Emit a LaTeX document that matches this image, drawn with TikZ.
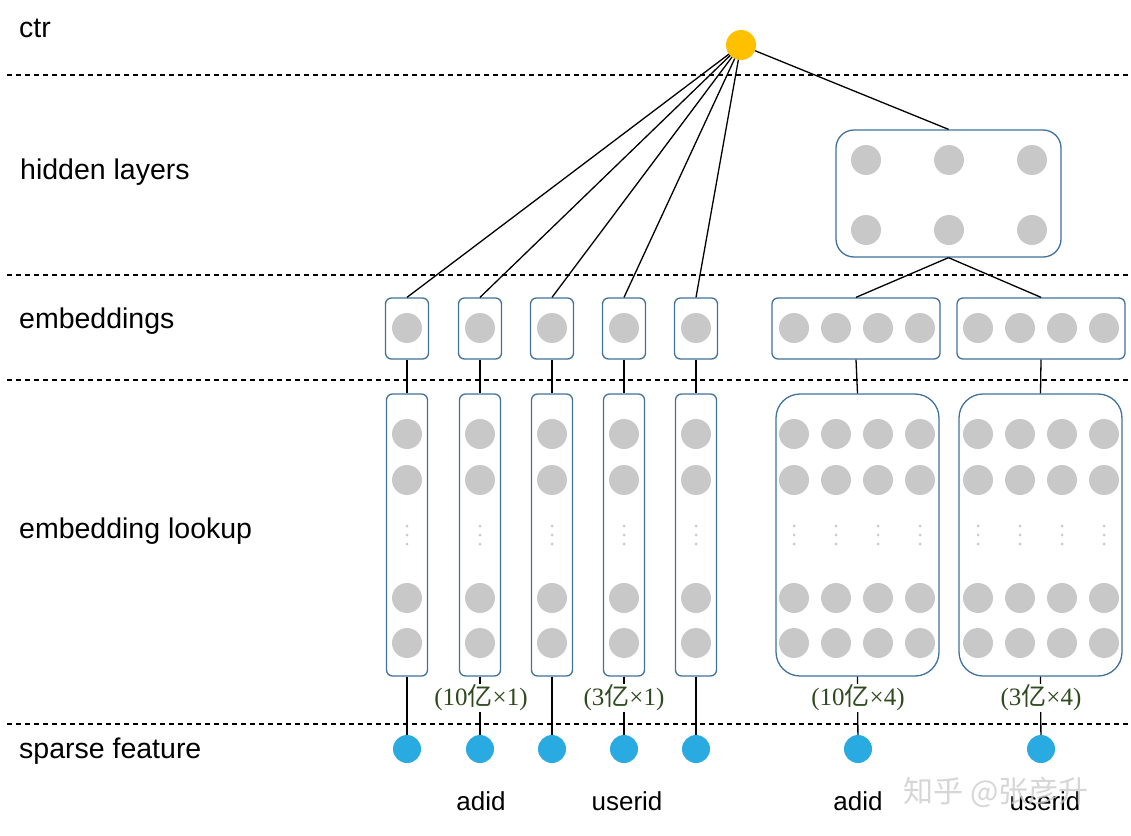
\documentclass[tikz,border=0pt]{standalone}
\usepackage{fontspec}
\setmainfont{Liberation Sans}
\newfontfamily\cjk{Noto Sans CJK SC}
\newfontfamily\lblf{Liberation Serif}
\begin{document}
\begin{tikzpicture}[x=1pt,y=-1pt,
  sep/.style={dashed,line width=1.2pt,dash pattern=on 5pt off 4pt},
  box/.style={draw=boxc,line width=1.3pt,rounded corners=6pt,fill=white},
  bigbox/.style={draw=boxc,line width=1.3pt,rounded corners=24pt,fill=white},
  gc/.style={circle,fill=gcol,minimum size=30pt,inner sep=0pt},
  bc/.style={circle,fill=bcol,minimum size=28pt,inner sep=0pt},
  lbl/.style={font=\fontsize{28.5}{32}\selectfont,anchor=west,inner sep=0pt},
  dim/.style={font=\lblf\fontsize{25}{29}\selectfont,text=dgreen,fill=white,inner sep=1pt},
  nm/.style={font=\fontsize{26}{30}\selectfont},
  ln/.style={line width=1.3pt}]
\definecolor{boxc}{HTML}{41719C}
\definecolor{gcol}{HTML}{C8C8C8}
\definecolor{bcol}{HTML}{29ABE2}
\definecolor{ocol}{HTML}{FFC000}
\definecolor{dgreen}{HTML}{2E4A1E}
\useasboundingbox (0,0) rectangle (1131,835);
\foreach \y in {75,275,380,724} \draw[sep] (7,\y) -- (1128,\y);
\node[lbl] (l1) at (19,28) {ctr};
\node[lbl] (l2) at (20,172) {hidden layers};
\node[lbl] (l3) at (19,321) {embeddings};
\node[lbl] (l4) at (19,531) {embedding lookup};
\node[lbl] (l5) at (19,751) {sparse feature};
\coordinate (ctr) at (741,45);
% hidden
\node[box,rounded corners=18pt,minimum width=225pt,minimum height=127pt] (hid) at (948.5,193.5) {};
\foreach \x/\i in {866/1,949/2,1032/3}{\node[gc] (h1\i) at (\x,160) {}; \node[gc] (h2\i) at (\x,230) {};}
% narrow columns
\foreach \x/\i in {407/1,480/2,552/3,624/4,696/5}{
  \node[box,minimum width=43pt,minimum height=61pt] (e\i) at (\x,328.5) {};
  \node[gc] (ec\i) at (\x,328) {};
  \node[box,minimum width=41pt,minimum height=282pt] (k\i) at (\x,535) {};
  \foreach \y/\j in {434/1,480/2,598/3,643/4} \node[gc] (k\i c\j) at (\x,\y) {};
  \foreach \y/\j in {526/1,535/2,544/3} \node[circle,fill=gcol,minimum size=3pt,inner sep=0pt] (k\i d\j) at (\x,\y) {};
  \node[bc] (s\i) at (\x,749) {};
  \draw[ln] (ctr) -- (e\i.north);
  \draw[ln] (e\i.south) -- (k\i.north);
  \draw[ln] (k\i.south) -- (s\i);
}
% wide columns
\foreach \cx/\bx/\sx/\i/\a/\b/\c/\d in {856/857.5/858/6/794/836/878/920, 1041/1040.5/1041/7/978/1020/1062/1104}{
  \node[box,minimum width=168pt,minimum height=61pt] (e\i) at (\cx,328.5) {};
  \node[bigbox,minimum width=163pt,minimum height=282pt] (k\i) at (\bx,535) {};
  \foreach \x/\m in {\a/1,\b/2,\c/3,\d/4}{
    \node[gc] (ec\i\m) at (\x,328) {};
    \foreach \y/\j in {434/1,480/2,598/3,643/4} \node[gc] (k\i c\m\j) at (\x,\y) {};
    \foreach \y/\j in {526/1,535/2,544/3} \node[circle,fill=gcol,minimum size=3pt,inner sep=0pt] (k\i d\m\j) at (\x,\y) {};
  }
  \node[bc] (s\i) at (\sx,749) {};
  \draw[ln] (hid.south) -- (e\i.north);
  \draw[ln] (e\i.south) -- (k\i.north);
  \draw[ln] (k\i.south) -- (s\i);
}
\draw[ln] (ctr) -- (hid.north);
\node[circle,fill=ocol,minimum size=30pt,inner sep=0pt] (ctrn) at (ctr) {};
\node[dim] (d1) at (481,698) {(10{\cjk 亿}×1)};
\node[dim] (d2) at (624,698) {(3{\cjk 亿}×1)};
\node[dim] (d3) at (858,698) {(10{\cjk 亿}×4)};
\node[dim] (d4) at (1041,698) {(3{\cjk 亿}×4)};
\node[nm] (n1) at (481,801) {adid};
\node[nm] (n2) at (627,801) {userid};
\node[nm] (n3) at (858,801) {adid};
\node[nm] (n4) at (1045,801) {userid};
\node[font=\cjk\fontsize{30}{34}\selectfont,text=gray!40,opacity=0.8] (wm) at (996,792) {知乎 @张彦升};
\end{tikzpicture}
\end{document}
